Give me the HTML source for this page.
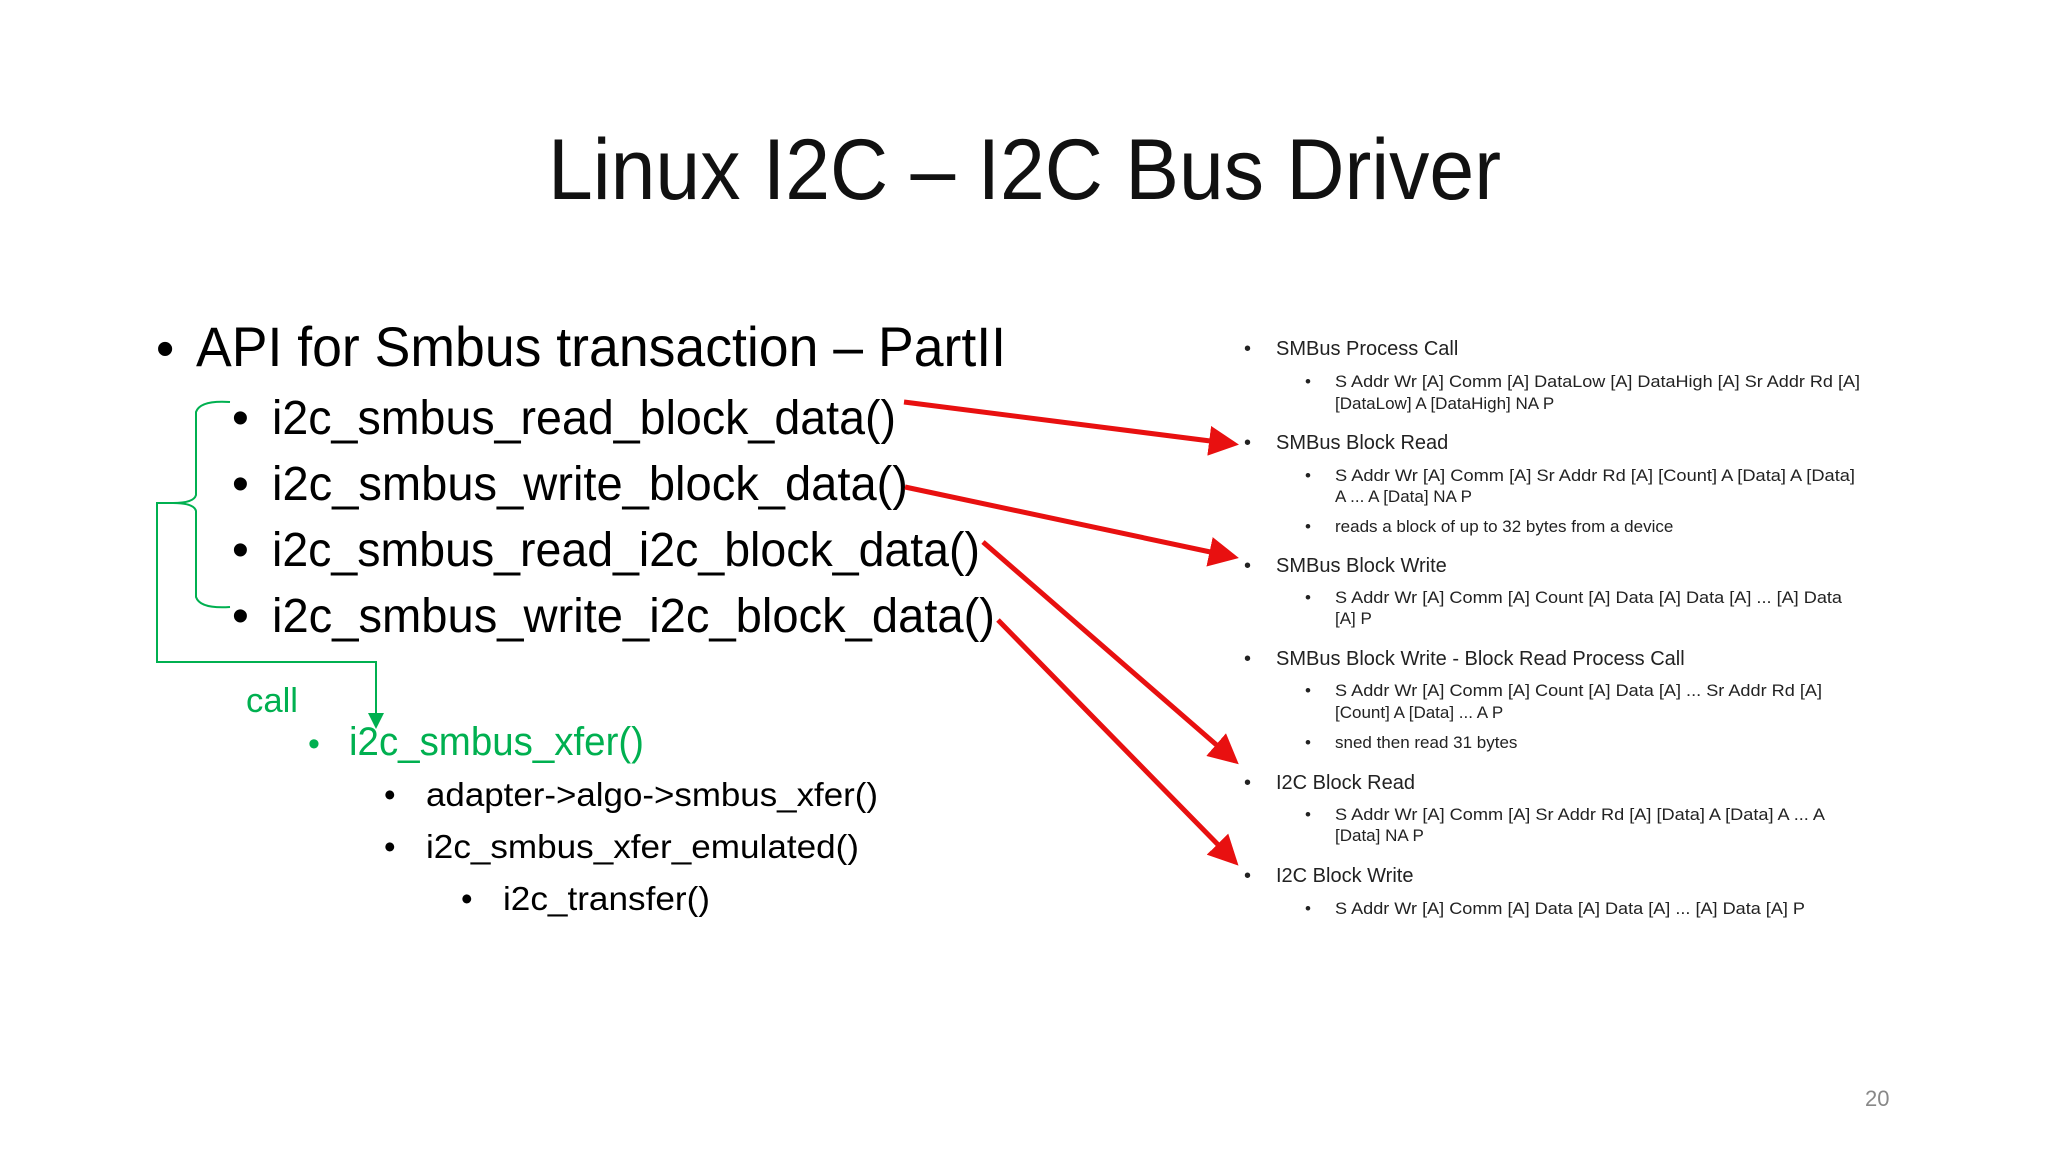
<!DOCTYPE html>
<html><head><meta charset="utf-8"><style>
html,body{margin:0;padding:0;background:#fff;}
svg{display:block;font-family:"Liberation Sans",sans-serif;}
</style></head><body>
<svg width="2048" height="1152" viewBox="0 0 2048 1152" xmlns="http://www.w3.org/2000/svg">
<defs>
<marker id="ra" markerWidth="6" markerHeight="6" refX="5" refY="3" orient="auto" markerUnits="strokeWidth"><path d="M0,0 L6,3 L0,6 z" fill="#e81010"/></marker>
<marker id="ga" markerWidth="8" markerHeight="8" refX="7" refY="4" orient="auto" markerUnits="strokeWidth"><path d="M0,0 L8,4 L0,8 z" fill="#00b050"/></marker>
</defs>
<rect width="2048" height="1152" fill="#fff"/>
<text x="548" y="199" font-size="86" fill="#111" textLength="953" lengthAdjust="spacingAndGlyphs">Linux I2C – I2C Bus Driver</text>

<text x="156" y="366" font-size="52" fill="#000">•</text>
<text x="196" y="366" font-size="56" fill="#000" textLength="810" lengthAdjust="spacingAndGlyphs">API for Smbus transaction – PartII</text>

<g font-size="48" fill="#000">
<text x="232" y="434">•</text><text x="272" y="434" textLength="624" lengthAdjust="spacingAndGlyphs">i2c_smbus_read_block_data()</text>
<text x="232" y="500">•</text><text x="272" y="500" textLength="636" lengthAdjust="spacingAndGlyphs">i2c_smbus_write_block_data()</text>
<text x="232" y="566">•</text><text x="272" y="566" textLength="708" lengthAdjust="spacingAndGlyphs">i2c_smbus_read_i2c_block_data()</text>
<text x="232" y="632">•</text><text x="272" y="632" textLength="723" lengthAdjust="spacingAndGlyphs">i2c_smbus_write_i2c_block_data()</text>
</g>

<g fill="none" stroke="#00b050" stroke-width="2">
<path d="M230,402 Q200,400 196,412 L196,495 Q194,503 173,503 Q194,503 196,511 L196,597 Q200,609 230,607"/>
<path d="M173,503 L157,503 L157,662 L376,662 L376,727" marker-end="url(#ga)"/>
</g>
<text x="246" y="712" font-size="34" fill="#00b050" textLength="52" lengthAdjust="spacingAndGlyphs">call</text>
<text x="308" y="755" font-size="34" fill="#00b050">•</text>
<text x="349" y="755" font-size="40" fill="#00b050" textLength="295" lengthAdjust="spacingAndGlyphs">i2c_smbus_xfer()</text>

<g font-size="33" fill="#000">
<text x="384" y="806">•</text><text x="426" y="806" textLength="452" lengthAdjust="spacingAndGlyphs">adapter-&gt;algo-&gt;smbus_xfer()</text>
<text x="384" y="858">•</text><text x="426" y="858" textLength="433" lengthAdjust="spacingAndGlyphs">i2c_smbus_xfer_emulated()</text>
<text x="461" y="910">•</text><text x="503" y="910" textLength="207" lengthAdjust="spacingAndGlyphs">i2c_transfer()</text>
</g>

<g stroke="#e81010" stroke-width="5" fill="none">
<line x1="904" y1="402" x2="1234" y2="444" marker-end="url(#ra)"/>
<line x1="905" y1="487" x2="1234" y2="557" marker-end="url(#ra)"/>
<line x1="983" y1="542" x2="1235" y2="761" marker-end="url(#ra)"/>
<line x1="998" y1="620" x2="1235" y2="862" marker-end="url(#ra)"/>
</g>

<g font-size="20" fill="#222">
<text x="1244" y="355">•</text><text x="1276" y="355">SMBus Process Call</text>
<text x="1244" y="449">•</text><text x="1276" y="449">SMBus Block Read</text>
<text x="1244" y="572">•</text><text x="1276" y="572">SMBus Block Write</text>
<text x="1244" y="665">•</text><text x="1276" y="665">SMBus Block Write - Block Read Process Call</text>
<text x="1244" y="789">•</text><text x="1276" y="789">I2C Block Read</text>
<text x="1244" y="882">•</text><text x="1276" y="882">I2C Block Write</text>
</g>
<g font-size="17" fill="#222">
<text x="1305" y="387">•</text><text x="1335" y="387" textLength="525" lengthAdjust="spacingAndGlyphs">S Addr Wr [A] Comm [A] DataLow [A] DataHigh [A] Sr Addr Rd [A]</text>
<text x="1335" y="409">[DataLow] A [DataHigh] NA P</text>
<text x="1305" y="481">•</text><text x="1335" y="481" textLength="520" lengthAdjust="spacingAndGlyphs">S Addr Wr [A] Comm [A] Sr Addr Rd [A] [Count] A [Data] A [Data]</text>
<text x="1335" y="502">A ... A [Data] NA P</text>
<text x="1305" y="532">•</text><text x="1335" y="532">reads a block of up to 32 bytes from a device</text>
<text x="1305" y="603">•</text><text x="1335" y="603" textLength="507" lengthAdjust="spacingAndGlyphs">S Addr Wr [A] Comm [A] Count [A] Data [A] Data [A] ... [A] Data</text>
<text x="1335" y="624">[A] P</text>
<text x="1305" y="696">•</text><text x="1335" y="696" textLength="487" lengthAdjust="spacingAndGlyphs">S Addr Wr [A] Comm [A] Count [A] Data [A] ... Sr Addr Rd [A]</text>
<text x="1335" y="718">[Count] A [Data] ... A P</text>
<text x="1305" y="748">•</text><text x="1335" y="748">sned then read 31 bytes</text>
<text x="1305" y="820">•</text><text x="1335" y="820" textLength="490" lengthAdjust="spacingAndGlyphs">S Addr Wr [A] Comm [A] Sr Addr Rd [A] [Data] A [Data] A ... A</text>
<text x="1335" y="841">[Data] NA P</text>
<text x="1305" y="914">•</text><text x="1335" y="914" textLength="470" lengthAdjust="spacingAndGlyphs">S Addr Wr [A] Comm [A] Data [A] Data [A] ... [A] Data [A] P</text>
</g>

<text x="1865" y="1106" font-size="22" fill="#888">20</text>
</svg>
</body></html>
